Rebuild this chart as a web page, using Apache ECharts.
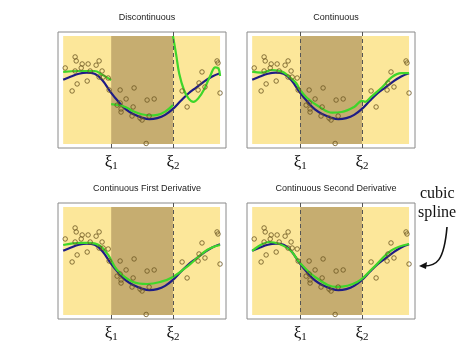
<!DOCTYPE html>
<html>
<head>
<meta charset="utf-8">
<script src="https://cdn.jsdelivr.net/npm/echarts@6/dist/echarts.min.js"></script>
<style>html,body{margin:0;padding:0;background:#fff}#c{width:474px;height:355px}</style>
</head>
<body>
<div id="c"></div>
<script>
// ---- data ----
var panelTitles = ['Discontinuous', 'Continuous', 'Continuous First Derivative', 'Continuous Second Derivative'];
var knots = [3.06, 7.0];
var knotLabels = ['ξ1', 'ξ2'];
var xRange = [0, 10];
var yRange = [0, 10];

var points = [
  [0.13,7.04],[0.76,8.06],[0.83,7.69],[1.21,7.41],[1.59,7.41],[1.15,7.04],[0.76,6.76],[1.72,6.76],
  [2.29,7.69],[2.48,6.76],[2.29,6.20],[1.53,5.83],[0.89,5.56],[0.57,4.91],[2.55,6.20],[2.87,6.11],
  [2.93,5.00],[3.63,5.00],[4.52,5.19],[4.01,4.17],[5.35,4.07],[5.80,4.17],[3.63,3.80],[3.44,3.60],
  [3.69,3.24],[3.69,2.96],[4.46,3.43],[4.39,2.59],[5.03,2.22],[5.48,2.59],[5.29,0.05],[7.58,4.91],
  [7.90,3.43],[8.60,5.00],[8.66,5.65],[8.85,6.67],[9.04,5.28],[9.81,7.69],[9.87,7.50],[10.0,4.72],
  [2.10,7.30],[4.90,2.40]
];

var trueX = [0,0.5,1,1.5,2,2.5,3,3.5,4,4.5,5,5.5,6,6.5,7,7.5,8,8.5,9,9.5,10];
var trueY = [5.95,6.25,6.5,6.6,6.5,5.9,4.85,3.95,3.2,2.75,2.45,2.3,2.4,2.7,3.25,4.0,4.7,5.25,5.8,6.25,6.55];

var discX1 = [0,1,2,2.5,3.06];
var discY1 = [6.67,6.76,6.76,6.4,5.93];
var discX2 = [3.06,3.5,4.0,4.5,5.0,5.5,6.0,6.5,7.0];
var discY2 = [3.7,3.6,3.4,3.0,2.75,2.65,2.7,3.0,3.6];
var discX3 = [7.0,7.2,7.4,7.7,8.0,8.3,8.6,9.0,9.4,9.7,9.9,10];
var discY3 = [10.0,8.3,6.5,5.0,4.2,3.9,4.2,5.1,6.4,7.1,7.0,6.3];

var contX = [0,0.6,1.3,1.9,2.3,2.8,3.06,3.5,4.3,5.1,5.7,6.5,7.0,7.2,7.6,8.3,8.9,9.5,10];
var contY = [6.7,6.6,6.85,6.7,6.3,5.65,5.0,4.26,3.43,2.9,2.96,3.43,4.0,3.9,4.4,5.28,6.2,6.57,6.57];

var d1X = [0,1.1,1.7,2.36,2.87,3.44,4.46,5.35,6.18,7.0,8.1,9.17,10];
var d1Y = [6.48,6.67,6.67,6.39,5.56,4.17,3.06,2.87,3.06,3.52,4.72,6.02,6.48];

var d2X = [0,1.1,2.35,3.0,4.1,5.4,6.7,7.7,8.9,10];
var d2Y = [5.93,6.76,6.1,4.9,3.43,2.6,3.06,4.35,6.0,6.57];

// ---- build ----
function zip(xs, ys){ return xs.map(function(x,i){ return [x, ys[i]]; }); }

var grids = [
  {left:58, top:32, width:168, height:116},
  {left:247, top:32, width:168, height:116},
  {left:58, top:203, width:168, height:116},
  {left:247, top:203, width:168, height:116}
];
var dashedKnots = [[knots[1]], [knots[0], knots[1]], [knots[1]], [knots[0], knots[1]]];
var greens = [
  [zip(discX1,discY1), zip(discX2,discY2), zip(discX3,discY3)],
  [zip(contX,contY)],
  [zip(d1X,d1Y)],
  [zip(d2X,d2Y)]
];

var LIGHT = '#FCE79A', DARK = '#C6AD70', BLUE = '#1E1C86', GREEN = '#3ED62A', PT = '#6A5520';

var option = {
  backgroundColor: '#fff',
  animation: false,
  title: [], grid: [], xAxis: [], yAxis: [], series: [],
  graphic: []
};

grids.forEach(function(g, i){
  option.grid.push({left:g.left, top:g.top, width:g.width, height:g.height, show:true,
    borderColor:'#8a8a8a', borderWidth:1, backgroundColor:'#fff'});
  option.title.push({text: panelTitles[i], left: g.left + g.width/2, top: g.top - 24, textAlign:'center',
    textStyle:{fontFamily:'Liberation Sans, Arial', fontSize:9, fontWeight:'normal', color:'#222'}});
  option.xAxis.push({type:'value', gridIndex:i, min:-0.33, max:10.38,
    axisLine:{show:false}, splitLine:{show:false},
    axisTick:{show:true, customValues: knots, length:4, lineStyle:{color:'#555'}},
    axisLabel:{show:true, customValues: knots, margin:5,
      formatter:function(v){ return Math.abs(v-knots[0])<1e-6 ? '{a|ξ}{s|1}' : '{a|ξ}{s|2}'; },
      rich:{a:{fontFamily:'Liberation Serif, DejaVu Serif', fontSize:17, color:'#111'},
            s:{fontFamily:'Liberation Serif, DejaVu Serif', fontSize:11, color:'#111', padding:[8,0,0,0]}}}
  });
  option.yAxis.push({type:'value', gridIndex:i, min:-0.37, max:10.37,
    axisLine:{show:false}, axisTick:{show:false}, axisLabel:{show:false}, splitLine:{show:false}});

  // background areas + knot lines
  option.series.push({type:'line', xAxisIndex:i, yAxisIndex:i, data:[], silent:true, z:1,
    markArea:{silent:true, data:[
      [{coord:[xRange[0], yRange[0]], itemStyle:{color:LIGHT}}, {coord:[xRange[1], yRange[1]]}],
      [{coord:[knots[0], yRange[0]], itemStyle:{color:DARK}}, {coord:[knots[1], yRange[1]]}]
    ]},
    markLine:{silent:true, symbol:'none', label:{show:false},
      lineStyle:{color:'#555', type:[4,3], width:1},
      data: dashedKnots[i].map(function(k){ return {xAxis:k}; })}
  });
  // true function
  option.series.push({type:'line', xAxisIndex:i, yAxisIndex:i, data:zip(trueX,trueY), smooth:0.4,
    showSymbol:false, lineStyle:{color:BLUE, width:2.2}, z:3});
  // fits
  greens[i].forEach(function(d){
    option.series.push({type:'line', xAxisIndex:i, yAxisIndex:i, data:d, smooth:0.4,
      showSymbol:false, lineStyle:{color:GREEN, width:2.2}, z:4});
  });
  // points
  option.series.push({type:'scatter', xAxisIndex:i, yAxisIndex:i, data:points, symbol:'circle', symbolSize:4.5,
    itemStyle:{color:'rgba(0,0,0,0)', borderColor:PT, borderWidth:1}, z:5});
});

option.graphic = [
  {type:'text', left:420, top:186, style:{text:'cubic', font:'16px "Liberation Serif", serif', fill:'#111'}},
  {type:'text', left:418, top:205, style:{text:'spline', font:'16px "Liberation Serif", serif', fill:'#111'}},
  {type:'bezierCurve', shape:{x1:447, y1:227, x2:424, y2:266, cpx1:444, cpy1:262, cpx2:436, cpy2:266},
    style:{stroke:'#111', lineWidth:1.6, fill:null}},
  {type:'polygon', shape:{points:[[419,266],[427,262],[426,269]]}, style:{fill:'#111'}}
];

var chart = echarts.init(document.getElementById('c'), null, {renderer:'canvas'});
chart.setOption(option);
</script>
</body>
</html>
